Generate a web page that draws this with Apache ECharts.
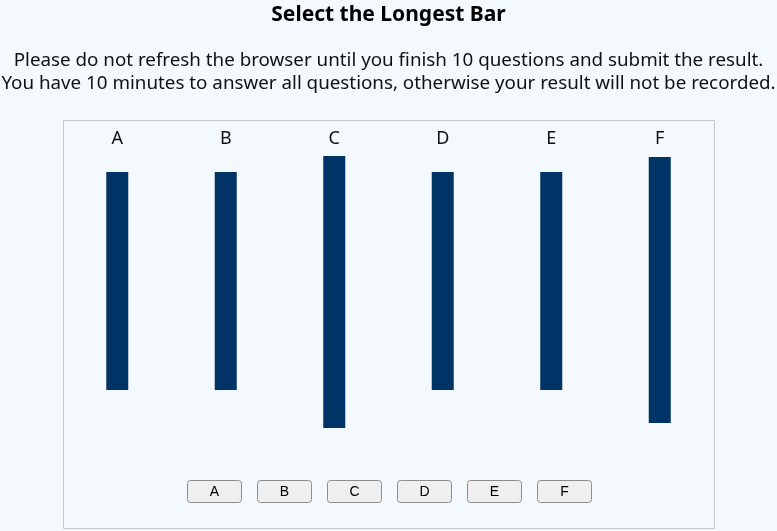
<!DOCTYPE html>
<html>
<head>
<meta charset="utf-8">
<script src="https://cdn.jsdelivr.net/npm/echarts@6/dist/echarts.min.js"></script>
<style>
html,body{margin:0;padding:0;background:#f4f9fd;}
#chart{width:777px;height:531px;}
</style>
</head>
<body>
<div id="chart"></div>
<script>
const categories = ['A', 'B', 'C', 'D', 'E', 'F'];
const barStart = [22, 22, 6, 22, 22, 7];
const barLength = [218, 218, 272, 218, 218, 266];
const buttonLabels = ['A', 'B', 'C', 'D', 'E', 'F'];
const titleText = 'Select the Longest Bar';
const line1 = 'Please do not refresh the browser until you finish 10 questions and submit the result.';
const line2 = 'You have 10 minutes to answer all questions, otherwise your result will not be recorded.';

const chart = echarts.init(document.getElementById('chart'));
const FONT = '"Noto Sans", "Open Sans", sans-serif';

const buttons = buttonLabels.map((lab, i) => ({
  type: 'group',
  x: 187 + i * 70,
  y: 480,
  children: [
    { type: 'rect', shape: { x: 0.5, y: 0.5, width: 54, height: 22, r: 3 },
      style: { fill: '#efefef', stroke: '#8d8d8d', lineWidth: 1 } },
    { type: 'text', x: 27.5, y: 12,
      style: { text: lab, fill: '#000', font: '14px Arial, "Liberation Sans", sans-serif', align: 'center', verticalAlign: 'middle' } }
  ]
}));

chart.setOption({
  backgroundColor: '#f4f9fd',
  animation: false,
  title: [
    { text: titleText, left: 'center', top: 0,
      textStyle: { fontFamily: FONT, fontSize: 21, fontWeight: 'bold', color: '#000' } },
    { text: line1, left: 'center', top: 46,
      textStyle: { fontFamily: FONT, fontSize: 18.8, fontWeight: 'normal', color: '#111' } },
    { text: line2, left: 'center', top: 69,
      textStyle: { fontFamily: FONT, fontSize: 18.8, fontWeight: 'normal', color: '#111' } }
  ],
  grid: { left: 63, top: 150, width: 651, height: 300 },
  xAxis: {
    type: 'category', data: categories, position: 'top',
    axisLine: { show: false }, axisTick: { show: false },
    axisLabel: { fontFamily: FONT, fontSize: 18, color: '#111', margin: 2 }
  },
  yAxis: { type: 'value', inverse: true, min: 0, max: 300, show: false },
  series: [
    { type: 'bar', stack: 's', data: barStart, barWidth: 22,
      itemStyle: { color: 'transparent' }, silent: true },
    { type: 'bar', stack: 's', data: barLength, barWidth: 22,
      itemStyle: { color: '#003366' } }
  ],
  graphic: [
    { type: 'rect', shape: { x: 63.5, y: 120.5, width: 651, height: 408 },
      style: { fill: 'none', stroke: '#c8c8c8', lineWidth: 1 }, z: -1 },
    ...buttons
  ]
});
</script>
</body>
</html>
